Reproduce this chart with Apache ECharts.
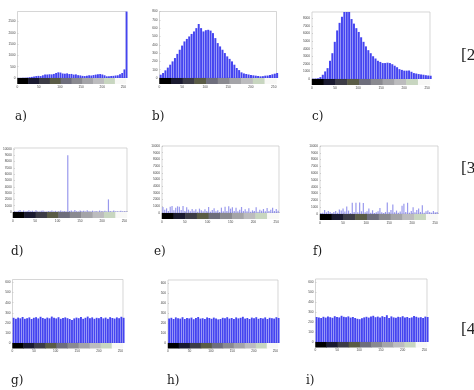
<!DOCTYPE html>
<html>
<head>
<meta charset="utf-8">
<script src="https://cdn.jsdelivr.net/npm/echarts@6/dist/echarts.min.js"></script>
<style>
html,body{margin:0;padding:0;background:#fff;overflow:hidden}
#c{width:474px;height:390px;filter:blur(0.55px)}
</style>
</head>
<body>
<div id="c"></div>
<script>
// histogram values (counts per bin)
const histA = [5,5,8,12,20,35,50,70,85,95,85,120,150,155,165,160,180,225,250,240,
  200,190,205,175,180,150,160,125,115,95,85,100,120,110,130,150,165,175,155,120,
  75,80,90,95,110,120,170,220,380,3000];
const histB = [40,60,92,125,160,200,240,290,340,390,440,470,500,530,560,600,650,600,560,575,
  580,570,540,480,420,380,340,300,260,230,200,160,120,95,68,55,48,42,36,32,
  28,24,20,22,28,30,36,44,52,60];
const histC = [40,60,90,250,560,1000,1430,2400,3400,4900,6400,7400,8200,8830,8830,8830,7900,7300,6700,6200,
  5500,4900,4300,3800,3400,3000,2700,2400,2250,2100,2100,2150,2100,1950,1750,1550,1300,1200,1100,1100,
  1120,950,780,720,650,600,560,500,460,430];
const histD = [120,60,180,300,90,240,60,150,260,100,200,80,280,120,70,190,
  240,90,60,150,110,220,90,180,60,130,250,90,170,60,9000,160,
  220,90,300,120,80,240,100,190,70,280,130,60,210,90,160,60,
  230,110,80,190,70,2000,150,60,220,90,130,70,180,100,60,120];
const histE = [900,500,700,300,950,1050,400,800,1000,950,450,1050,300,850,500,250,
  600,350,550,200,650,400,250,550,300,900,200,450,700,250,400,150,
  800,250,950,300,1000,650,850,300,800,250,500,900,300,550,250,700,
  200,400,300,850,200,500,350,600,250,750,300,500,800,300,600,350];
const histF = [150,200,600,250,450,300,150,300,450,200,650,500,800,350,1100,500,
  150,1650,300,1650,250,1700,400,1600,250,400,800,200,550,150,250,400,
  900,250,150,300,1700,300,600,1400,250,500,200,350,1200,1500,300,1650,
  200,450,1000,250,600,800,300,1300,200,400,500,300,200,450,250,300];
const histG = [250,240,252,245,258,240,246,254,238,250,256,244,260,248,240,252,245,262,250,244,
  256,240,248,254,246,238,228,244,252,246,258,240,250,262,246,254,240,250,246,258,
  244,252,240,256,248,242,254,246,260,250];
const histH = [245,252,240,256,248,244,258,240,250,246,254,238,250,260,244,248,240,256,250,242,
  254,246,236,240,252,248,258,244,250,240,256,246,252,262,244,250,240,254,248,258,
  242,250,246,256,240,252,248,244,258,250];
const histI = [250,245,240,252,244,256,248,242,258,250,246,262,252,248,256,244,250,240,232,228,
  238,246,252,244,256,262,248,254,244,258,250,268,240,256,246,242,252,248,258,244,
  250,240,246,260,252,244,248,240,254,250];

const xTickLabels = [0,50,100,150,200,250];
const stripColors = ['#000000','#1a1a30','#3c3c46','#5a5c46','#6e6e7c','#8a8a90','#a4a4a8','#bcbcbe','#c8d6c0','#f8f8f6'];
const panelLetters = ['a)','b)','c)','d)','e)','f)','g)','h)','i)'];
const refLabels = ['[2','[3','[4'];

// layout only
const panels = [
 {v:histA,x:17.5,w:108.5,top:11.5,zero:78,strip:6,max:2940,step:500,bin:5.2,thin:false,lx:15,ly:111},
 {v:histB,x:159.5,w:117,top:11.5,zero:78,strip:6,max:800,step:100,bin:5.2,thin:false,lx:152,ly:111},
 {v:histC,x:312,w:118,top:12,zero:79,strip:6,max:8830,step:1000,bin:5.2,thin:false,lx:312,ly:111},
 {v:histD,x:13,w:114,top:148,zero:212,strip:6,max:10150,step:1000,bin:4,thin:true,lx:11,ly:246},
 {v:histE,x:162,w:117,top:146,zero:213,strip:6,max:10000,step:1000,bin:4,thin:true,lx:154,ly:246},
 {v:histF,x:320,w:118,top:146,zero:214,strip:6,max:10000,step:1000,bin:4,thin:true,lx:313,ly:246},
 {v:histG,x:12.5,w:110.5,top:279.5,zero:343,strip:5.5,max:630,step:100,bin:5.2,thin:false,lx:11,ly:375},
 {v:histH,x:168,w:110,top:280,zero:343,strip:5.5,max:630,step:100,bin:5.2,thin:false,lx:167,ly:375},
 {v:histI,x:315.5,w:111.5,top:279,zero:342,strip:5.5,max:630,step:100,bin:5.2,thin:false,lx:306,ly:375}
];
const refPos = [{x:461,y:47},{x:461,y:160},{x:461,y:321}];

const grid=[],xAxis=[],yAxis=[],series=[],title=[];
const tinyLabel={fontSize:3.2,color:'#444',fontFamily:'Liberation Sans'};
panels.forEach((p,k)=>{
  const g=grid.length;
  grid.push({left:p.x,top:p.top,width:p.w,height:p.zero-p.top,show:true,borderColor:'#c4c4c4',borderWidth:0.7,backgroundColor:'#fff'});
  grid.push({left:p.x,top:p.zero,width:p.w,height:p.strip,show:false});
  xAxis.push({gridIndex:g,type:'value',min:0,max:256,interval:50,axisLabel:{show:false},
    axisLine:{show:false},axisTick:{show:true,inside:true,length:1,lineStyle:{color:'#aaa',width:0.5}},splitLine:{show:false}});
  xAxis.push({gridIndex:g+1,type:'value',min:0,max:256,interval:50,
    axisLabel:{...tinyLabel,margin:1.5,showMaxLabel:false,formatter:v=>xTickLabels.includes(v)?String(v):''},
    axisLine:{show:false},axisTick:{show:false},splitLine:{show:false}});
  yAxis.push({gridIndex:g,type:'value',min:0,max:p.max,interval:p.step,
    axisLabel:{...tinyLabel,margin:2,showMaxLabel:p.max%p.step===0,formatter:v=>String(v)},
    axisLine:{show:false},axisTick:{show:true,inside:true,length:1,lineStyle:{color:'#aaa',width:0.5}},splitLine:{show:false}});
  yAxis.push({gridIndex:g+1,type:'value',min:0,max:1,show:false});
  series.push({type:'bar',xAxisIndex:g,yAxisIndex:g,silent:true,animation:false,
    data:p.v.map((y,i)=>[i*p.bin+p.bin/2,y]),
    barWidth:p.thin?1.2:p.w/p.v.length*0.85,
    itemStyle:{color:p.thin?'rgba(85,85,225,0.6)':'#4444f0'}});
  const segW=256/stripColors.length;
  series.push({type:'bar',xAxisIndex:g+1,yAxisIndex:g+1,silent:true,animation:false,
    barWidth:p.w/stripColors.length+0.5,
    data:stripColors.map((c,i)=>({value:[(i+0.5)*segW,1],itemStyle:{color:c}}))});
  title.push({text:panelLetters[k],left:p.lx,top:p.ly,padding:0,
    textStyle:{fontFamily:'DejaVu Serif',fontSize:12,fontWeight:'normal',color:'#1a1a1a'}});
});
refLabels.forEach((t,i)=>title.push({text:t,left:refPos[i].x,top:refPos[i].y,padding:0,
  textStyle:{fontFamily:'Liberation Serif',fontSize:17,fontWeight:'normal',color:'#222'}}));

const chart=echarts.init(document.getElementById('c'),null,{renderer:'canvas'});
chart.setOption({animation:false,backgroundColor:'#fff',title,grid,xAxis,yAxis,series});
</script>
</body>
</html>
